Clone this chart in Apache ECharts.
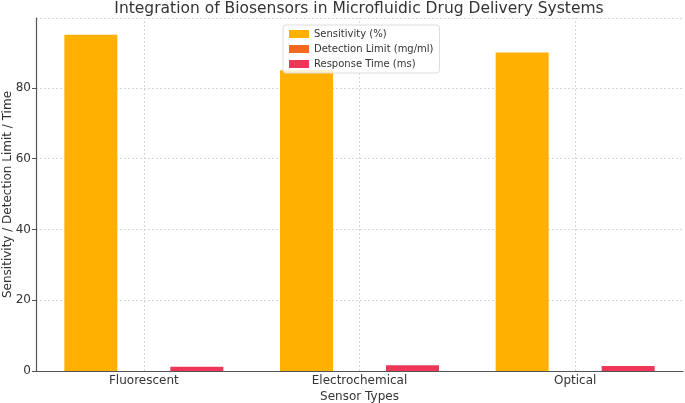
<!DOCTYPE html>
<html>
<head>
<meta charset="utf-8">
<script src="https://cdn.jsdelivr.net/npm/echarts@6/dist/echarts.min.js"></script>
<style>
  html, body { margin: 0; padding: 0; background: #fff; }
  #chart { width: 685px; height: 403px; }
</style>
</head>
<body>
<div id="chart"></div>
<script>
var sensorTypes = ['Fluorescent', 'Electrochemical', 'Optical'];
var sensitivity = [95, 85, 90];
var detectionLimit = [0.01, 0.02, 0.015];
var responseTime = [1.2, 1.6, 1.4];
var yTicks = [0, 20, 40, 60, 80];

var font = 'DejaVu Sans';

function barSeries(name, data, color){
  return {
    name: name,
    type: 'bar',
    data: data,
    barWidth: 53,
    barGap: '0%',
    itemStyle: { color: color }
  };
}

var myChart = echarts.init(document.getElementById('chart'));
var series = [
  barSeries('Sensitivity (%)', sensitivity, '#ffb000'),
  barSeries('Detection Limit (mg/ml)', detectionLimit, '#f26b21'),
  barSeries('Response Time (ms)', responseTime, '#ee3658')
];
// vertical grid lines at category centres (middle series has no offset)
series[1].markLine = {
  silent: true,
  symbol: 'none',
  label: { show: false },
  z: 0,
  lineStyle: { color: '#cccccc', type: [2, 2], width: 0.8 },
  data: sensorTypes.map(function(c){ return { xAxis: c }; })
};

var option = {
  animation: false,
  textStyle: { fontFamily: font },
  title: {
    text: 'Integration of Biosensors in Microfluidic Drug Delivery Systems',
    left: 359,
    textAlign: 'center',
    top: 1,
    padding: 0,
    textStyle: { fontFamily: font, fontSize: 15.5, fontWeight: 'normal', color: '#333' }
  },
  legend: {
    orient: 'vertical',
    left: 283,
    top: 25,
    itemWidth: 20,
    itemHeight: 8,
    itemGap: 5,
    padding: [4, 6, 4, 6],
    backgroundColor: 'rgba(255,255,255,0.8)',
    borderColor: '#dddddd',
    borderWidth: 1,
    borderRadius: 3,
    icon: 'rect',
    textStyle: { fontFamily: font, fontSize: 10, color: '#333' },
    data: ['Sensitivity (%)', 'Detection Limit (mg/ml)', 'Response Time (ms)']
  },
  grid: { left: 36, right: 2, top: 18, bottom: 32, containLabel: false, outerBoundsMode: 'none' },
  xAxis: {
    type: 'category',
    data: sensorTypes,
    name: 'Sensor Types',
    nameLocation: 'middle',
    nameGap: 20,
    nameMoveOverlap: false,
    nameTextStyle: { fontFamily: font, fontSize: 12, color: '#333' },
    axisLine: { lineStyle: { color: '#555', width: 1.2 } },
    axisTick: { alignWithLabel: true, length: 4, lineStyle: { color: '#555' } },
    axisLabel: { fontFamily: font, fontSize: 12, color: '#333', margin: 4 },
    splitLine: { show: false }
  },
  yAxis: {
    type: 'value',
    min: 0,
    max: 99.75,
    interval: 20,
    name: 'Sensitivity / Detection Limit / Time',
    nameLocation: 'middle',
    nameGap: 22,
    nameMoveOverlap: false,
    nameTextStyle: { fontFamily: font, fontSize: 12, color: '#333' },
    axisLine: { show: true, lineStyle: { color: '#555', width: 1.2 } },
    axisTick: { show: true, length: 4, lineStyle: { color: '#555' } },
    axisLabel: {
      fontFamily: font, fontSize: 12, color: '#333', margin: 5,
      showMaxLabel: false,
      formatter: function(v){ return yTicks.indexOf(v) >= 0 ? v : ''; }
    },
    splitLine: { lineStyle: { color: '#cccccc', type: [2, 2], width: 0.8 } }
  },
  series: series
};
myChart.setOption(option);
</script>
</body>
</html>
